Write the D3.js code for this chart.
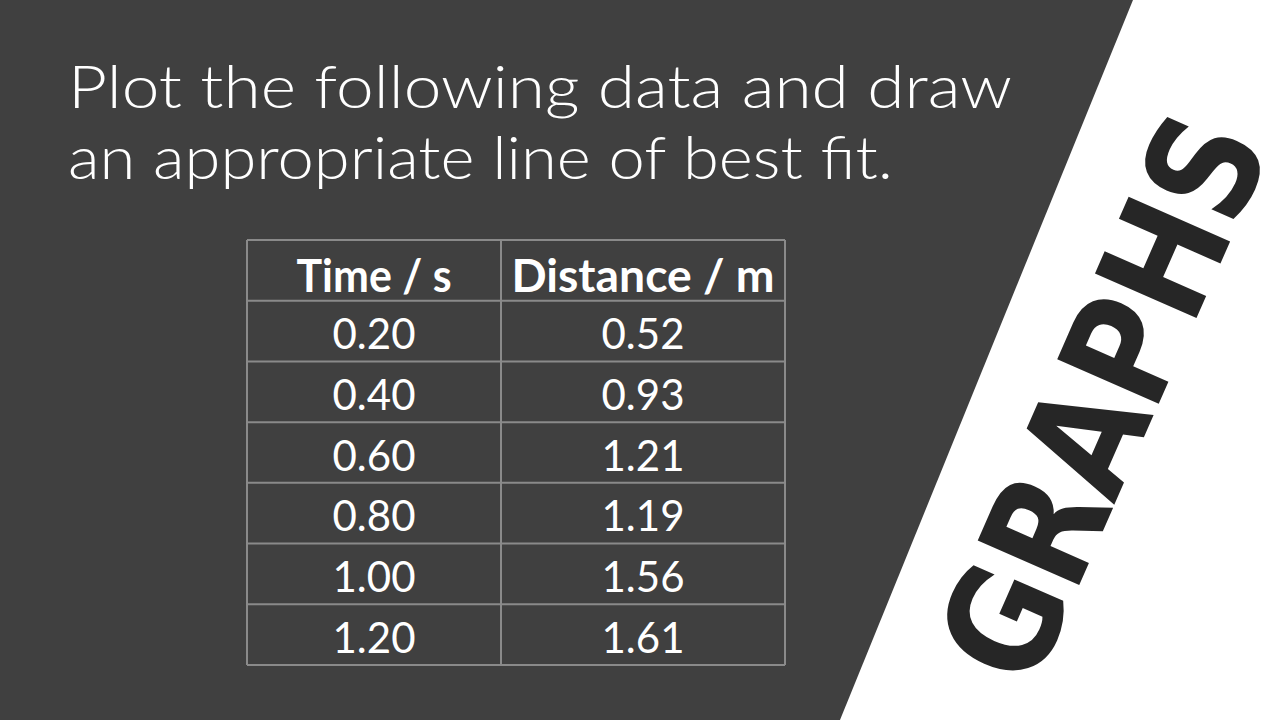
<!DOCTYPE html>
<html>
<head>
<meta charset="utf-8">
<script src="https://cdn.jsdelivr.net/npm/d3@7"></script>
<style>
  html, body { margin: 0; padding: 0; background: #404040; }
  svg { display: block; }
</style>
</head>
<body>
<div id="slide"></div>
<script>
// Parameters
const svg_w = 1280;
const svg_h = 720;

// Slide text
const titleLines = ["Plot the following data and draw", "an appropriate line of best fit."];
const sideLabel = "GRAPHS";

// Table data
const headers = ["Time / s", "Distance / m"];
const times = ["0.20", "0.40", "0.60", "0.80", "1.00", "1.20"];
const distances = ["0.52", "0.93", "1.21", "1.19", "1.56", "1.61"];

const rows = [headers].concat(times.map((t, i) => [t, distances[i]]));

// Style-only settings (widths the text is stretched to)
const titleWidths = [944, 825];
const headerWidths = [155, 263];

const svg = d3.select("div#slide")
  .append("svg")
    .attr("width", svg_w)
    .attr("height", svg_h);

// Dark background
svg.append("rect")
    .attr("x", 0)
    .attr("y", 0)
    .attr("width", svg_w)
    .attr("height", svg_h)
    .attr("fill", "#404040");

// White diagonal band on the right
svg.append("polygon")
    .attr("points", [[1133, 0], [svg_w, 0], [svg_w, svg_h], [840, svg_h]].join(" "))
    .attr("fill", "#ffffff");

// Title
svg.append("g")
  .selectAll("text")
  .data(titleLines)
  .enter()
  .append("text")
    .attr("x", 68)
    .attr("y", (d, i) => 108 + i * 71)
    .attr("textLength", (d, i) => titleWidths[i])
    .attr("lengthAdjust", "spacingAndGlyphs")
    .style("font-family", "Lato, 'Open Sans', sans-serif")
    .style("font-weight", "300")
    .style("font-size", "60px")
    .style("fill", "#ffffff")
    .text(d => d);

// Table scales
const yScale = d3.scaleBand()
    .domain(d3.range(rows.length))
    .range([240, 665])
    .padding(0);

const colEdges = [247, 501, 785];
const xScale = d3.scaleOrdinal()
    .domain(d3.range(colEdges.length))
    .range(colEdges);

const table = svg.append("g").attr("id", "table");
const tableBottom = yScale(rows.length - 1) + yScale.bandwidth();

// Horizontal rules
table.selectAll("line.h")
  .data(d3.range(rows.length + 1))
  .enter()
  .append("line")
    .attr("class", "h")
    .attr("x1", xScale(0))
    .attr("x2", xScale(2))
    .attr("y1", d => d < rows.length ? yScale(d) : tableBottom)
    .attr("y2", d => d < rows.length ? yScale(d) : tableBottom)
    .attr("stroke", "#8a8a8a")
    .attr("stroke-width", 2);

// Vertical rules
table.selectAll("line.v")
  .data(d3.range(colEdges.length))
  .enter()
  .append("line")
    .attr("class", "v")
    .attr("x1", d => xScale(d))
    .attr("x2", d => xScale(d))
    .attr("y1", yScale(0))
    .attr("y2", tableBottom)
    .attr("stroke", "#8a8a8a")
    .attr("stroke-width", 2);

// Cell text
rows.forEach(function(row, r) {
  const cells = table.selectAll("text.r" + r)
    .data(row)
    .enter()
    .append("text")
      .attr("class", "r" + r)
      .attr("x", (d, c) => (xScale(c) + xScale(c + 1)) / 2)
      .attr("y", yScale(r) + yScale.bandwidth() / 2 + (r == 0 ? 22 : 18))
      .attr("text-anchor", "middle")
      .style("font-family", "Lato, 'Open Sans', sans-serif")
      .style("font-weight", r == 0 ? "bold" : "normal")
      .style("font-size", r == 0 ? "45px" : "42px")
      .style("fill", "#ffffff")
      .text(d => d);
  if (r == 0) {
    cells.attr("textLength", (d, c) => headerWidths[c])
      .attr("lengthAdjust", "spacingAndGlyphs");
  }
});

// Rotated side label
svg.append("text")
    .attr("transform", "translate(1152, 419) rotate(-66.3)")
    .attr("text-anchor", "middle")
    .attr("textLength", 596)
    .attr("lengthAdjust", "spacingAndGlyphs")
    .style("font-family", "'DejaVu Sans', sans-serif")
    .style("font-weight", "bold")
    .style("font-size", "152px")
    .style("fill", "#262626")
    .text(sideLabel);
</script>
</body>
</html>
